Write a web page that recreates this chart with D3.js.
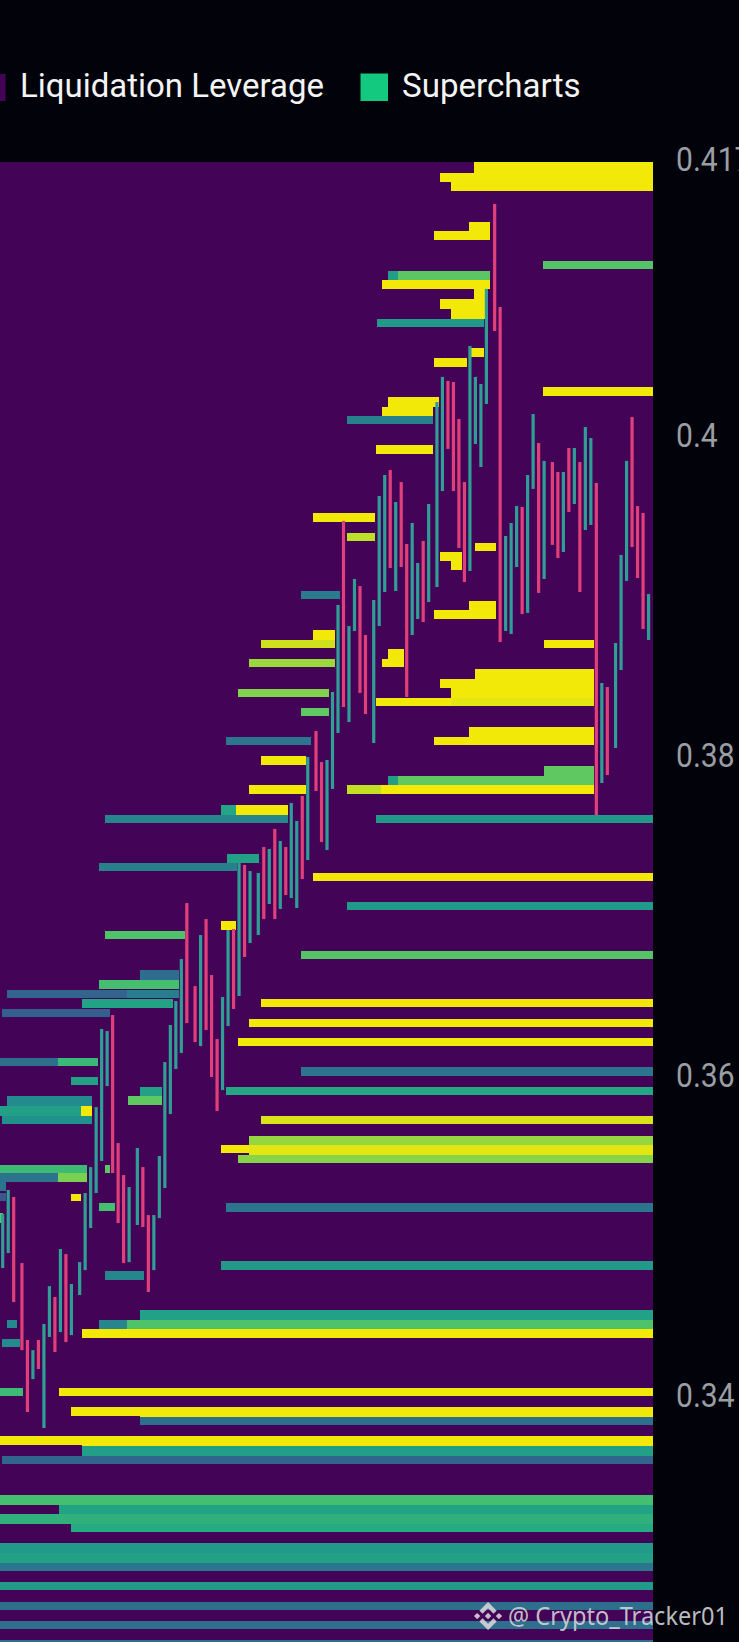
<!DOCTYPE html>
<html><head><meta charset="utf-8">
<script src="https://d3js.org/d3.v7.min.js"></script>
<style>html,body{margin:0;padding:0;background:#01020a;overflow:hidden}svg{display:block}</style>
</head><body><div id="chart"></div>
<script>
// Candles: time index, high, low, direction (1 = up/teal, 0 = down/pink)
const candleTime = [
0,1,2,3.5,4.5,5.5,6.5,7.5,8.5,9.5,
10.5,11.5,12.5,14,15,16,17,18,19,20,
21,22,23,24.5,25.5,26.5,27.5,28.5,29.5,30.5,
31.5,32.5,33.5,35,36,37,38,39,40,41,
42,43,44,45,46.5,47.5,48.5,49.5,50.5,51.5,
52.5,53.5,54.5,55.5,57,58,59,60,61,62,
63,64,65,66,67.5,68.5,69.5,70.5,71.5,72.5,
73.5,74.5,75.5,76.5,77.5,79,80,81,82,83,
84,85,86,87,88,89.5,90.5,91.5,92.5,93.5,
94.5,95.5,96.5,97.5,98.5,100,101,102,103,104,
105,106,107,108,109,110,111.5,112.5,113.5,114.5,
115.5,116.5,117.5];
const candleHigh = [
.35134,.35285,.35241,.34828,.34347,.34284,.34347,.34447,.34684,.34616,
.34916,.34884,.34697,.34834,.35266,.35428,.35803,.36291,.36278,.36378,
.35578,.35378,.35303,.35547,.35428,.35128,.35128,.35497,.36084,.36316,
.36466,.36728,.37078,.36559,.36878,.36978,.36628,.36228,.36491,.36909,
.36916,.37328,.37316,.37278,.37266,.37428,.37416,.37541,.37466,.37428,
.37703,.37591,.37747,.37991,.38153,.37959,.37972,.38397,.38941,.39466,
.38809,.39103,.39059,.38753,.38972,.39622,.39753,.39784,.39584,.39709,
.39322,.39453,.39203,.39341,.39572,.40209,.40366,.40341,.40334,.40103,
.39709,.40559,.40366,.40322,.40916,.41447,.40803,.39372,.39453,.39559,
.39553,.39753,.40134,.39953,.39841,.39834,.39772,.39772,.39922,.39922,
.39834,.40053,.39984,.39703,.38453,.38428,.38703,.39253,.39841,.40116,
.39559,.39516,.39009];
const candleLow = [
.34797,.34891,.34584,.34284,.33897,.34103,.34166,.33797,.34366,.34272,
.34397,.34334,.34378,.34628,.34784,.35047,.35266,.35466,.35934,.35391,
.35078,.34828,.34834,.35066,.35053,.34647,.34784,.35109,.35297,.35759,
.36041,.36141,.36328,.36209,.36184,.36284,.35991,.35778,.35909,.36309,
.36416,.36497,.36741,.36828,.36878,.36978,.37072,.36978,.37041,.37128,
.37109,.37047,.37228,.37347,.37778,.37459,.37409,.37791,.38141,.38303,
.38209,.38778,.38391,.38259,.38078,.38809,.39022,.39172,.39028,.39178,
.38366,.38753,.38853,.38834,.38959,.39053,.39653,.39916,.39653,.39297,
.39084,.39153,.39947,.39803,.40197,.40653,.38709,.38778,.38759,.39178,
.38884,.38891,.39666,.39016,.39103,.39316,.39234,.39272,.39522,.39572,
.39022,.39409,.39441,.37628,.37828,.37878,.38047,.38534,.39091,.39303,
.39109,.38791,.38722];
const candleDir = [
1,1,0,0,0,1,0,1,1,0,
1,0,1,1,1,1,1,1,1,0,
0,0,1,1,0,0,1,1,1,1,
1,1,0,0,1,0,0,0,1,1,
0,1,0,1,1,0,1,0,1,0,
1,1,0,1,0,0,1,1,1,0,
1,1,0,0,1,1,1,0,1,0,
0,1,1,0,1,1,1,0,0,0,
0,1,1,1,1,0,0,1,1,1,
0,1,1,0,1,0,0,1,0,1,
0,1,1,0,1,0,1,1,1,0,
0,0,1];

// Liquidation heat rows: price top, price bottom, start time, end time, leverage level (0..1)
const barTop = [
.41709,.41641,.41584,.41334,.41275,.4103,.4103,.40972,.40918,.40851,
.40789,.40728,.40547,.40484,.41091,.40303,.40241,.40178,.40122,.39941,
.39516,.39391,.3933,.3927,.39216,.39028,.38966,.38908,.38784,.38724,
.38724,.38664,.38601,.38601,.38541,.3848,.38422,.38359,.38359,.38418,
.38297,.38176,.38118,.38114,.37997,.37934,.37874,.37874,.37814,.37814,
.37814,.37693,.37693,.3763,.3763,.37384,.37326,.37268,.37086,.36964,
.36901,.3678,.36658,.36597,.36536,.36536,.36478,.36416,.36476,.36355,
.36234,.36111,.36111,.36051,.35991,.3593,.3593,.3587,.3587,.35809,
.35809,.35749,.35747,.35624,.35566,.35566,.35505,.35443,.35389,.35389,
.35334,.35266,.35443,.35261,.35201,.35201,.35139,.34839,.34776,.34534,
.34472,.34472,.34414,.34472,.34351,.34049,.34049,.33926,.33926,.33866,
.33745,.33745,.33684,.33622,.33378,.33318,.33258,.33197,.33076,.33014,
.32953,.32833,.32711,.32591,.32472];
const barBottom = [
.41641,.41584,.41528,.41275,.41222,.40972,.40972,.40918,.40851,.40789,
.40728,.40675,.40491,.4043,.41041,.40249,.40178,.40124,.40072,.39886,
.39459,.39339,.39278,.39216,.39158,.38976,.38908,.38853,.38724,.38672,
.38672,.38601,.38551,.38551,.3848,.38422,.38359,.38308,.38308,.38368,
.38247,.38118,.38064,.38064,.37943,.37874,.37814,.37814,.37759,.37759,
.37759,.3763,.3763,.3758,.3758,.3733,.37276,.37214,.37034,.36911,
.36851,.3673,.36599,.36539,.36484,.36484,.3642,.36364,.36426,.36303,
.36183,.36061,.36061,.36,.35939,.35878,.3587,.35818,.35809,.35749,
.35749,.35697,.35695,.35566,.35514,.35505,.35455,.35389,.35334,.35334,
.35278,.35216,.35393,.35216,.35151,.35149,.3508,.34786,.34724,.34472,
.34414,.34414,.34361,.34422,.34301,.33997,.33997,.33874,.33866,.33814,
.33693,.33684,.33622,.33572,.33318,.33258,.33197,.33147,.33014,.32953,
.32903,.32783,.32661,.32539,.3245];
const barStart = [
85.79,79.6,81.6,84.77,78.5,70.13,71.95,69.04,85.79,79.6,
81.6,68.04,85.24,78.5,98.34,98.34,70.13,69.04,62.72,68,
56.43,62.72,85.84,79.54,81.65,54.35,84.75,78.5,56.43,47.01,
98.4,70.13,69.04,44.89,85.84,79.54,81.65,68,81.65,42.77,
54.35,84.75,78.5,40.7,47.01,98.4,70.13,71.95,62.72,68.8,
44.89,39.68,42.47,18.67,68,40.77,17.58,56.43,62.72,39.68,
18.67,54.35,25,17.58,.84,22.57,14.49,-.18,47.01,44.89,
42.77,-.49,10.01,54.35,12.38,40.7,25,22.86,.84,-.49,
14.25,-.18,47.01,44.89,39.68,44.89,42.77,-.49,-.49,10.01,
-.49,-.49,18.67,12.38,17.58,40.7,-.49,39.68,18.67,25,
17.58,22.57,14.49,.84,-.18,10.25,-.49,12.38,25,25,
-.49,14.49,14.49,-.18,-.49,10.25,-.49,12.38,-.49,-.49,
-.49,-.49,-.49,-.49,-.49];
const barEnd = [
118.4,118.4,118.4,88.7,88.7,71.95,88.7,88.7,87.69,87.69,
87.69,87.6,87.6,84.51,118.4,118.4,79.29,78.27,78.27,78.27,
67.77,67.77,89.79,83.47,83.47,61.39,89.79,89.79,60.43,60.43,
107.63,73.04,73.04,60.43,107.63,107.63,107.63,81.65,107.63,59.39,
59.39,107.63,107.63,56.17,55.2,107.63,71.95,107.63,68.8,107.63,
55.2,42.47,51.98,51.98,118.4,46.7,42.6,118.4,118.4,42.47,
33.18,118.4,32.09,32.09,22.57,32.09,31.05,19.53,118.4,118.4,
118.4,10.01,17.35,118.4,17.35,118.4,28.94,28.94,16.25,14.25,
16.25,16.25,118.4,118.4,44.89,118.4,118.4,15.29,10.01,15.29,
.6,.6,19.53,14.25,20.5,118.4,.05,118.4,25.72,118.4,
22.57,118.4,118.4,2.66,3.15,118.4,3.64,25,118.4,118.4,
14.49,118.4,118.4,118.4,118.4,118.4,118.4,118.4,118.4,118.4,
118.4,118.4,118.4,118.4,118.4];
const barLevel = [
1,1,1,1,1,.55,.74,1,1,1,
1,.54,1,1,.73,1,1,1,.45,1,
1,.9,1,1,1,.43,1,1,1,.93,
1,1,1,.85,1,1,1,1,.97,.81,
.75,1,1,.41,1,.75,.55,.75,.91,1,
1,.59,1,.46,.54,.57,.45,1,.54,1,
.72,.73,.36,.7,.31,.44,.58,.3,1,1,
1,.37,.67,.41,.57,.6,.57,.75,.48,.56,
1,.5,.95,.84,1,.97,.82,.68,.4,.8,
.4,.27,.74,1,.7,.41,.74,.54,.46,.57,
.46,.72,1,.47,.48,1,.68,1,1,.37,
1,1,.56,.32,.7,.58,.64,.61,.54,.57,
.41,.54,.37,.37,.37];

const tickValues = [.34,.36,.38,.40,.4172];
const tickLabels = ["0.34","0.36","0.38","0.4","0.417"];
const legendLabels = ["Liquidation Leverage","Supercharts"];
const watermark = "@ Crypto_Tracker01";

const W = 739, H = 1642;
const margin = {top:162, right:653, bottom:1642};
const x = d3.scaleLinear().domain([-.49,118.4]).range([0,653.5]);
const y = d3.scaleLinear().domain([.41709,.32460]).range([margin.top,margin.bottom]);
const level = d3.scaleLinear()
  .domain([0,.25,.33,.42,.5,.6,.7,.8,.9,1])
  .range(["#440154","#3b528b","#31688e","#2a788e","#21918c","#22a884","#44bf70","#7ad151","#bddf26","#f3e908"]);

const svg = d3.select("#chart").append("svg").attr("width",W).attr("height",H);
svg.append("clipPath").attr("id","plot").append("rect").attr("x",0).attr("y",margin.top).attr("width",margin.right).attr("height",H-margin.top);
svg.append("rect").attr("width",W).attr("height",H).attr("fill","#01020a");
const plot = svg.append("g").attr("clip-path","url(#plot)");
plot.append("rect").attr("x",0).attr("y",margin.top).attr("width",margin.right).attr("height",H-margin.top).attr("fill","#430356");

const idx = d3.range(barTop.length);
plot.append("g").selectAll("rect").data(idx).join("rect")
  .attr("x",i=>x(barStart[i])).attr("width",i=>x(barEnd[i])-x(barStart[i]))
  .attr("y",i=>y(barTop[i])).attr("height",i=>y(barBottom[i])-y(barTop[i]))
  .attr("fill",i=>level(barLevel[i]))
  .attr("shape-rendering","crispEdges");

plot.append("g").selectAll("rect").data(d3.range(candleTime.length)).join("rect")
  .attr("x",i=>x(candleTime[i])-1.6).attr("width",3.2)
  .attr("y",i=>y(candleHigh[i])).attr("height",i=>y(candleLow[i])-y(candleHigh[i]))
  .attr("fill",i=>candleDir[i]?"#2f9f95":"#e0407a");

// Axis
const axis = d3.axisRight(y).tickValues(tickValues).tickSize(0).tickPadding(23)
  .tickFormat((d,i)=>tickLabels[i]);
const ag = svg.append("g").attr("transform",`translate(${margin.right},0)`).call(axis);
ag.select(".domain").remove();
ag.selectAll("text").attr("font-family","Roboto").attr("font-size",33).attr("fill","#9b9ea3")
  .attr("lengthAdjust","spacingAndGlyphs")
  .attr("textLength",function(){return this.getComputedTextLength()*.91;});

// Legend
const lg = svg.append("g").attr("font-family","Roboto").attr("font-size",33).attr("fill","#f4f4f4");
lg.append("rect").attr("x",-8).attr("y",74).attr("width",13.6).attr("height",27).attr("fill","#430356");
lg.append("text").attr("x",20).attr("y",97).attr("textLength",304).attr("lengthAdjust","spacingAndGlyphs").text(legendLabels[0]);
lg.append("rect").attr("x",360.5).attr("y",73.5).attr("width",27.5).attr("height",27.5).attr("fill","#12c97f");
lg.append("text").attr("x",402).attr("y",97).attr("textLength",178.6).attr("lengthAdjust","spacingAndGlyphs").text(legendLabels[1]);

// Watermark
const wm = svg.append("g").attr("fill","#d4d4d8").attr("fill-opacity",.9);
wm.append("path").attr("transform","translate(474,1602) scale(.222)")
  .attr("d","M38.73 53.2L63.3 28.63l24.59 24.58 14.3-14.3L63.3 0 24.43 38.88zM0 63.31l14.3-14.3 14.3 14.3-14.3 14.3zM38.73 73.41L63.3 97.99l24.59-24.58 14.3 14.3L63.3 126.61 24.43 87.73zM98 63.31l14.3-14.3 14.3 14.3-14.3 14.3zM77.83 63.3L63.3 48.78 52.6 59.5l-1.23 1.23-2.54 2.54 14.47 14.5 14.53-14.5z");
wm.append("text").attr("x",508).attr("y",1625).attr("font-family","Noto Sans").attr("font-size",25)
  .attr("textLength",220).attr("lengthAdjust","spacingAndGlyphs").text(watermark);
</script></body></html>
